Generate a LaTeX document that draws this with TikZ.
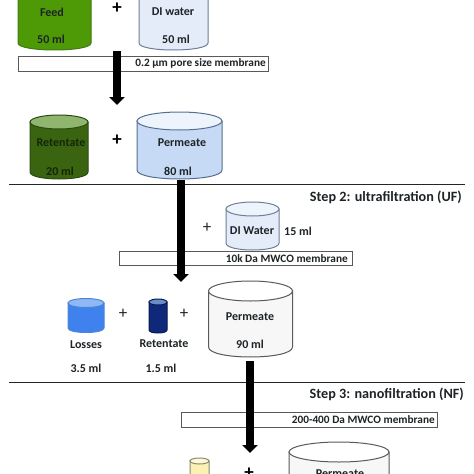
\documentclass[tikz,border=0pt]{standalone}
\usepackage{fontspec}
\setmainfont{Carlito}
\usetikzlibrary{arrows.meta}
\definecolor{txt}{HTML}{1E2326}
\definecolor{feedf}{HTML}{4E9A06}
\definecolor{feeds}{HTML}{3F7A12}
\definecolor{dif}{HTML}{E4ECFA}
\definecolor{dis}{HTML}{6F7F95}
\definecolor{retf}{HTML}{3A6410}
\definecolor{rett}{HTML}{8FB56F}
\definecolor{rets}{HTML}{2C4A12}
\definecolor{rettxt}{HTML}{14260A}
\definecolor{perf}{HTML}{C6DAF5}
\definecolor{pert}{HTML}{EEF4FC}
\definecolor{pers}{HTML}{55708F}
\definecolor{lossf}{HTML}{3F82EE}
\definecolor{losst}{HTML}{8FB8F5}
\definecolor{losss}{HTML}{4A86D8}
\definecolor{darkf}{HTML}{10287A}
\definecolor{darkt}{HTML}{6C8CC8}
\definecolor{darks}{HTML}{0A1A50}
\definecolor{yelf}{HTML}{FCF0B4}
\definecolor{yelt}{HTML}{FFF8D8}
\definecolor{yels}{HTML}{8A8A70}
\definecolor{whf}{HTML}{F7F7F7}
\definecolor{whs}{HTML}{5A5A5A}
\newcommand{\cyl}[8]{%
  \path[draw=#8,line width=1pt,fill=#6] ({#1-#2},#3) -- ({#1-#2},#5)
    .. controls ({#1-#2},{#5+1.333*#4}) and ({#1+#2},{#5+1.333*#4}) .. ({#1+#2},#5)
    -- ({#1+#2},#3) -- cycle;
  \path[draw=#8,line width=1pt,fill=#7] (#1,#3) ellipse [x radius=#2,y radius=#4];
}
\tikzset{
  lbl/.style={font=\fontsize{12}{13}\selectfont\bfseries,text=txt,inner sep=0pt},
  steplbl/.style={font=\fontsize{14.2}{15}\selectfont\bfseries,text=txt,inner sep=0pt,anchor=east},
  memlbl/.style={font=\fontsize{11.3}{12}\selectfont\bfseries,text=txt,inner sep=0pt,anchor=east},
  plus/.style={font=\fontsize{19}{20}\selectfont\bfseries,text=black,inner sep=0pt},
  plusthin/.style={font=\fontsize{17}{20}\selectfont,text=txt,inner sep=0pt},
  bar/.style={draw=black!65,line width=1pt,fill=white},
  flow/.style={line width=8pt,black,-{Triangle[length=8pt,width=15pt]}},
  rule/.style={line width=1pt,draw=black!85}
}
\begin{document}
\begin{tikzpicture}[x=1pt,y=-1pt]
\useasboundingbox (0,0) rectangle (474,474);
\clip (0,0) rectangle (474,474);
\fill[white] (0,0) rectangle (474,474);
% step 1
\cyl{54.5}{36.5}{-20}{7}{43}{feedf}{feedf}{feeds}
\cyl{173.5}{34.5}{-20}{7}{43}{dif}{dif}{dis}
\node[lbl] (feed) at (52,12) {Feed};
\node[lbl] (feedv) at (51,39) {50 ml};
\node[lbl] (di) at (173,12) {DI water};
\node[lbl] (div) at (176,39) {50 ml};
\node[plus] (p1) at (117,8) {+};
\draw[bar] (18,56.5) rectangle (268,71);
\coordinate (a1s) at (117,51);
\coordinate (a1e) at (117,105);
\draw[flow] (a1s) -- (a1e);
\node[memlbl] (m1) at (266,63) {0.2 µm pore size membrane};
\cyl{59}{29}{122}{7}{172}{retf}{rett}{rets}
\cyl{179.5}{42.5}{121}{9}{170}{perf}{pert}{pers}
\node[lbl,text=rettxt] (ret1) at (61,143) {Retentate};
\node[lbl,text=rettxt] (ret1v) at (60,171) {20 ml};
\node[lbl] (per1) at (182,143) {Permeate};
\node[lbl] (per1v) at (178,171) {80 ml};
\node[plus] (p2) at (117,140) {+};
% step 2
\draw[rule] (9,184.5) -- (465,184.5);
\node[steplbl] (s2) at (462,197) {Step 2: ultrafiltration (UF)};
\cyl{252.5}{26.5}{209}{7}{243}{dif}{pert}{dis}
\node[lbl] (di2) at (252,231) {DI Water};
\node[lbl,anchor=west] (di2v) at (284,231) {15 ml};
\node[plusthin] (p3) at (207,228) {+};
\draw[bar] (119,251) rectangle (352,265);
\coordinate (a2s) at (181,180);
\coordinate (a2e) at (181,282);
\draw[flow] (a2s) -- (a2e);
\node[memlbl] (m2) at (348,258.5) {10k Da MWCO membrane};
\cyl{86}{18}{303}{4.5}{328}{lossf}{losst}{losss}
\cyl{158}{9}{302}{3}{330}{darkf}{darkt}{darks}
\cyl{250.5}{42}{291}{10}{347}{whf}{white}{whs}
\node[lbl] (los) at (86,345) {Losses};
\node[lbl] (losv) at (86,368.5) {3.5 ml};
\node[lbl] (ret2) at (164,344) {Retentate};
\node[lbl] (ret2v) at (161,368.5) {1.5 ml};
\node[lbl] (per2) at (250,317) {Permeate};
\node[lbl] (per2v) at (250,344) {90 ml};
\node[plusthin] (p4) at (123,314) {+};
\node[plusthin] (p5) at (184,314) {+};
% step 3
\draw[rule] (9,382.5) -- (465,382.5);
\node[steplbl] (s3) at (464,394) {Step 3: nanofiltration (NF)};
\draw[bar] (181,412) rectangle (437,427);
\coordinate (a3s) at (250,361);
\coordinate (a3e) at (250,453);
\draw[flow] (a3s) -- (a3e);
\node[memlbl] (m3) at (435,420) {200-400 Da MWCO membrane};
\cyl{199.5}{9.5}{461}{3}{500}{yelf}{yelt}{yels}
\cyl{339}{50}{452}{10}{520}{whf}{white}{whs}
\node[plus] (p6) at (249,473) {+};
\node[lbl] (per3) at (340,474) {Permeate};
\end{tikzpicture}
\end{document}
